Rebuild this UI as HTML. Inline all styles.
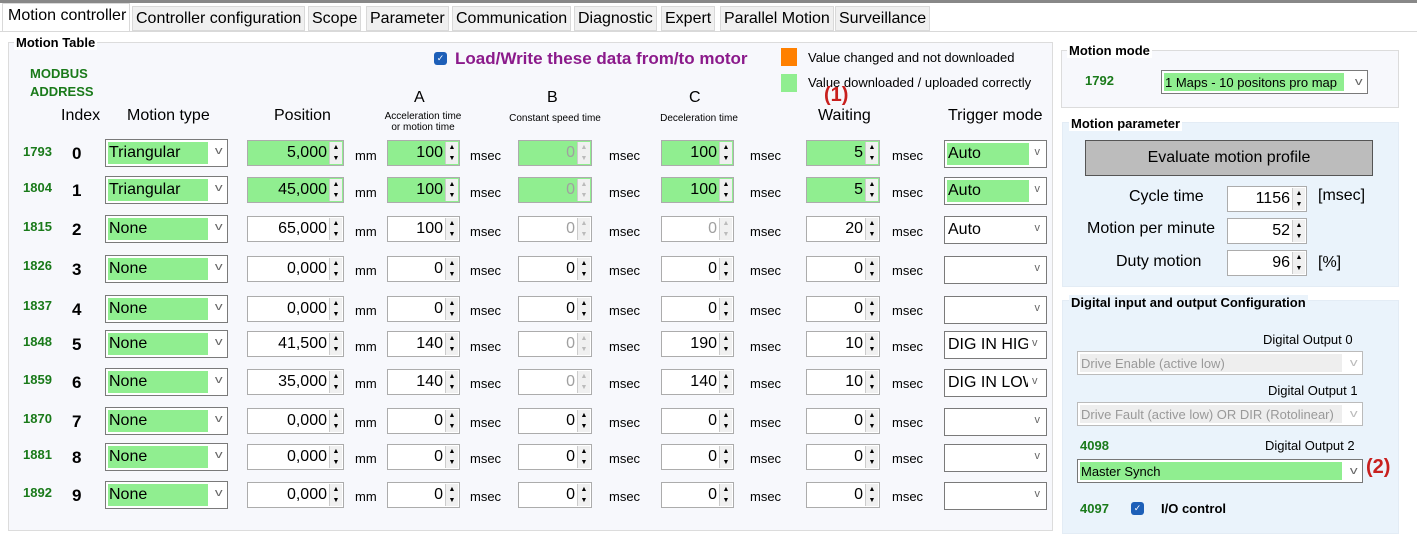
<!DOCTYPE html>
<html><head><meta charset="utf-8"><style>
*{box-sizing:border-box;margin:0;padding:0}
body{width:1417px;height:540px;background:#fff;font-family:"Liberation Sans",Arial,sans-serif;position:relative;overflow:hidden;color:#000}
.a{position:absolute;white-space:nowrap}
.tab{position:absolute;top:6px;height:25px;border:1px solid #d9d9d9;background:#f0f0f0;font-size:16px;padding:3px 3px 0;white-space:nowrap}
.grp{position:absolute;border:1px solid #dcdcdc;background:#f7f8fc}
.gt{position:absolute;font-weight:bold;font-size:13px;background:inherit;padding:0 2px;white-space:nowrap}
.mb{position:absolute;left:23px;color:#1a7a1a;font-weight:bold;font-size:13px}
.ix{position:absolute;left:72px;font-weight:bold;font-size:17px}
.cb{position:absolute;left:105px;width:123px;height:28px;border:1px solid #7a7a7a;background:#fff}
.cb .f,.tr .f{white-space:nowrap;overflow:hidden}
.cb .f{position:absolute;left:2px;top:2px;width:100px;bottom:2px;background:#90ee90;font-size:16px;padding:2px 0 0 1px}
.cb .v,.dd .v{position:absolute;right:6px;top:5px;font-size:11px;color:#666;transform:scaleX(1.4)}
.in{position:absolute;height:26px;border:1px solid #acacac;background:#fff;font-size:16px;text-align:right;padding:3px 16px 0 0}
.in.g{background:#90ee90}
.in.d{color:#a0a0a0}
.in .s{position:absolute;right:1px;top:1px;width:13px;bottom:1px;background:#f0f0f0;border-left:1px solid #ccc;font-size:7px;line-height:11px;text-align:center;color:#000;padding:0}
.in.d .s{color:#bbb}
.u{position:absolute;font-size:13px}
.tr{position:absolute;left:944px;width:103px;height:28px;border:1px solid #7a7a7a;background:#fff;overflow:hidden}
.tr .f{position:absolute;left:2px;top:2px;width:82px;bottom:2px;font-size:16px;padding:2px 0 0 1px}
.hd{position:absolute;font-size:16px}
.sm{position:absolute;font-size:10px;text-align:center}
.dd{position:absolute;left:1077px;width:286px;height:24px;border:1px solid #bbb;background:#fff}
.dd > div{white-space:nowrap;overflow:hidden}
</style></head><body>
<div class="a" style="left:0;top:0;width:1417px;height:3px;background:#888"></div>
<div class="tab" style="left:2px;top:3px;height:29px;background:#fff;border-bottom:none;padding-left:5px">Motion controller</div>
<div class="tab" style="left:132px">Controller configuration</div>
<div class="tab" style="left:308px">Scope</div>
<div class="tab" style="left:366px">Parameter</div>
<div class="tab" style="left:452px">Communication</div>
<div class="tab" style="left:574px">Diagnostic</div>
<div class="tab" style="left:661px">Expert</div>
<div class="tab" style="left:720px">Parallel Motion</div>
<div class="tab" style="left:835px">Surveillance</div>
<div class="a" style="left:0;top:31px;width:1417px;height:1px;background:#d9d9d9"></div>

<div class="grp" style="left:8px;top:42px;width:1045px;height:489px"></div>
<div class="gt" style="left:14px;top:35px;background:#fff">Motion Table</div>
<div class="mb" style="left:30px;top:65px;line-height:18px">MODBUS<br>ADDRESS</div>
<div class="a" style="left:434px;top:52px;width:13px;height:13px;background:#1d5fb8;border-radius:3px;color:#fff;font-size:9px;text-align:center;line-height:13px">✓</div>
<div class="a" style="left:455px;top:49px;font-size:17px;font-weight:bold;color:#8b1a8b">Load/Write these data from/to motor</div>
<div class="a" style="left:781px;top:48px;width:16px;height:18px;background:#ff8000"></div>
<div class="a" style="left:781px;top:74px;width:16px;height:18px;background:#90ee90"></div>
<div class="a" style="left:808px;top:50px;font-size:13px">Value changed and not downloaded</div>
<div class="a" style="left:808px;top:75px;font-size:13px">Value downloaded / uploaded correctly</div>
<div class="a" style="left:824px;top:84px;font-size:20px;font-weight:bold;color:#c8201e">(1)</div>

<div class="hd" style="left:61px;top:107px">Index</div>
<div class="hd" style="left:127px;top:107px">Motion type</div>
<div class="hd" style="left:274px;top:107px">Position</div>
<div class="hd" style="left:414px;top:89px">A</div>
<div class="sm" style="left:377px;top:111px;width:92px">Acceleration time<br>or motion time</div>
<div class="hd" style="left:547px;top:89px">B</div>
<div class="sm" style="left:503px;top:113px;width:104px">Constant speed time</div>
<div class="hd" style="left:689px;top:89px">C</div>
<div class="sm" style="left:650px;top:113px;width:98px">Deceleration time</div>
<div class="hd" style="left:818px;top:107px">Waiting</div>
<div class="hd" style="left:948px;top:107px">Trigger mode</div>

<div class="mb" style="top:144px">1793</div><div class="ix" style="top:144px">0</div>
<div class="cb" style="top:139px"><div class="f">Triangular</div><span class="v">v</span></div>
<div class="in g" style="left:247px;top:140px;width:97px">5,000<span class="s">▲<br>▼</span></div><span class="u" style="left:355px;top:148px">mm</span>
<div class="in g" style="left:387px;top:140px;width:73px">100<span class="s">▲<br>▼</span></div><span class="u" style="left:470px;top:148px">msec</span>
<div class="in g d" style="left:518px;top:140px;width:74px">0<span class="s">▲<br>▼</span></div><span class="u" style="left:609px;top:148px">msec</span>
<div class="in g" style="left:661px;top:140px;width:73px">100<span class="s">▲<br>▼</span></div><span class="u" style="left:750px;top:148px">msec</span>
<div class="in g" style="left:806px;top:140px;width:74px">5<span class="s">▲<br>▼</span></div><span class="u" style="left:892px;top:148px">msec</span>
<div class="tr" style="top:140px"><div class="f" style="background:#90ee90">Auto</div><span style="position:absolute;right:6px;top:5px;font-size:11px;color:#666">v</span></div>

<div class="mb" style="top:180px">1804</div><div class="ix" style="top:181px">1</div>
<div class="cb" style="top:176px"><div class="f">Triangular</div><span class="v">v</span></div>
<div class="in g" style="left:247px;top:177px;width:97px">45,000<span class="s">▲<br>▼</span></div><span class="u" style="left:355px;top:185px">mm</span>
<div class="in g" style="left:387px;top:177px;width:73px">100<span class="s">▲<br>▼</span></div><span class="u" style="left:470px;top:185px">msec</span>
<div class="in g d" style="left:518px;top:177px;width:74px">0<span class="s">▲<br>▼</span></div><span class="u" style="left:609px;top:185px">msec</span>
<div class="in g" style="left:661px;top:177px;width:73px">100<span class="s">▲<br>▼</span></div><span class="u" style="left:750px;top:185px">msec</span>
<div class="in g" style="left:806px;top:177px;width:74px">5<span class="s">▲<br>▼</span></div><span class="u" style="left:892px;top:185px">msec</span>
<div class="tr" style="top:177px"><div class="f" style="background:#90ee90">Auto</div><span style="position:absolute;right:6px;top:5px;font-size:11px;color:#666">v</span></div>

<div class="mb" style="top:219px">1815</div><div class="ix" style="top:220px">2</div>
<div class="cb" style="top:215px"><div class="f">None</div><span class="v">v</span></div>
<div class="in" style="left:247px;top:216px;width:97px">65,000<span class="s">▲<br>▼</span></div><span class="u" style="left:355px;top:224px">mm</span>
<div class="in" style="left:387px;top:216px;width:73px">100<span class="s">▲<br>▼</span></div><span class="u" style="left:470px;top:224px">msec</span>
<div class="in d" style="left:518px;top:216px;width:74px">0<span class="s">▲<br>▼</span></div><span class="u" style="left:609px;top:224px">msec</span>
<div class="in d" style="left:661px;top:216px;width:73px">0<span class="s">▲<br>▼</span></div><span class="u" style="left:750px;top:224px">msec</span>
<div class="in" style="left:806px;top:216px;width:74px">20<span class="s">▲<br>▼</span></div><span class="u" style="left:892px;top:224px">msec</span>
<div class="tr" style="top:216px"><div class="f">Auto</div><span style="position:absolute;right:6px;top:5px;font-size:11px;color:#666">v</span></div>

<div class="mb" style="top:258px">1826</div><div class="ix" style="top:260px">3</div>
<div class="cb" style="top:255px"><div class="f">None</div><span class="v">v</span></div>
<div class="in" style="left:247px;top:256px;width:97px">0,000<span class="s">▲<br>▼</span></div><span class="u" style="left:355px;top:263px">mm</span>
<div class="in" style="left:387px;top:256px;width:73px">0<span class="s">▲<br>▼</span></div><span class="u" style="left:470px;top:263px">msec</span>
<div class="in" style="left:518px;top:256px;width:74px">0<span class="s">▲<br>▼</span></div><span class="u" style="left:609px;top:263px">msec</span>
<div class="in" style="left:661px;top:256px;width:73px">0<span class="s">▲<br>▼</span></div><span class="u" style="left:750px;top:263px">msec</span>
<div class="in" style="left:806px;top:256px;width:74px">0<span class="s">▲<br>▼</span></div><span class="u" style="left:892px;top:263px">msec</span>
<div class="tr" style="top:256px"><span style="position:absolute;right:6px;top:5px;font-size:11px;color:#666">v</span></div>

<div class="mb" style="top:298px">1837</div><div class="ix" style="top:300px">4</div>
<div class="cb" style="top:295px"><div class="f">None</div><span class="v">v</span></div>
<div class="in" style="left:247px;top:296px;width:97px">0,000<span class="s">▲<br>▼</span></div><span class="u" style="left:355px;top:303px">mm</span>
<div class="in" style="left:387px;top:296px;width:73px">0<span class="s">▲<br>▼</span></div><span class="u" style="left:470px;top:303px">msec</span>
<div class="in" style="left:518px;top:296px;width:74px">0<span class="s">▲<br>▼</span></div><span class="u" style="left:609px;top:303px">msec</span>
<div class="in" style="left:661px;top:296px;width:73px">0<span class="s">▲<br>▼</span></div><span class="u" style="left:750px;top:303px">msec</span>
<div class="in" style="left:806px;top:296px;width:74px">0<span class="s">▲<br>▼</span></div><span class="u" style="left:892px;top:303px">msec</span>
<div class="tr" style="top:296px"><span style="position:absolute;right:6px;top:5px;font-size:11px;color:#666">v</span></div>

<div class="mb" style="top:334px">1848</div><div class="ix" style="top:335px">5</div>
<div class="cb" style="top:330px"><div class="f">None</div><span class="v">v</span></div>
<div class="in" style="left:247px;top:331px;width:97px">41,500<span class="s">▲<br>▼</span></div><span class="u" style="left:355px;top:339px">mm</span>
<div class="in" style="left:387px;top:331px;width:73px">140<span class="s">▲<br>▼</span></div><span class="u" style="left:470px;top:339px">msec</span>
<div class="in d" style="left:518px;top:331px;width:74px">0<span class="s">▲<br>▼</span></div><span class="u" style="left:609px;top:339px">msec</span>
<div class="in" style="left:661px;top:331px;width:73px">190<span class="s">▲<br>▼</span></div><span class="u" style="left:750px;top:339px">msec</span>
<div class="in" style="left:806px;top:331px;width:74px">10<span class="s">▲<br>▼</span></div><span class="u" style="left:892px;top:339px">msec</span>
<div class="tr" style="top:331px"><div class="f" style="width:100px">DIG IN HIGH</div><span style="position:absolute;right:0;top:0;width:18px;bottom:0;background:#fff;font-size:11px;color:#666;padding:5px 0 0 4px">v</span></div>

<div class="mb" style="top:372px">1859</div><div class="ix" style="top:373px">6</div>
<div class="cb" style="top:368px"><div class="f">None</div><span class="v">v</span></div>
<div class="in" style="left:247px;top:369px;width:97px">35,000<span class="s">▲<br>▼</span></div><span class="u" style="left:355px;top:376px">mm</span>
<div class="in" style="left:387px;top:369px;width:73px">140<span class="s">▲<br>▼</span></div><span class="u" style="left:470px;top:376px">msec</span>
<div class="in d" style="left:518px;top:369px;width:74px">0<span class="s">▲<br>▼</span></div><span class="u" style="left:609px;top:376px">msec</span>
<div class="in" style="left:661px;top:369px;width:73px">140<span class="s">▲<br>▼</span></div><span class="u" style="left:750px;top:376px">msec</span>
<div class="in" style="left:806px;top:369px;width:74px">10<span class="s">▲<br>▼</span></div><span class="u" style="left:892px;top:376px">msec</span>
<div class="tr" style="top:369px"><div class="f" style="width:100px">DIG IN LOW</div><span style="position:absolute;right:0;top:0;width:18px;bottom:0;background:#fff;font-size:11px;color:#666;padding:5px 0 0 4px">v</span></div>

<div class="mb" style="top:411px">1870</div><div class="ix" style="top:412px">7</div>
<div class="cb" style="top:407px"><div class="f">None</div><span class="v">v</span></div>
<div class="in" style="left:247px;top:408px;width:97px">0,000<span class="s">▲<br>▼</span></div><span class="u" style="left:355px;top:415px">mm</span>
<div class="in" style="left:387px;top:408px;width:73px">0<span class="s">▲<br>▼</span></div><span class="u" style="left:470px;top:415px">msec</span>
<div class="in" style="left:518px;top:408px;width:74px">0<span class="s">▲<br>▼</span></div><span class="u" style="left:609px;top:415px">msec</span>
<div class="in" style="left:661px;top:408px;width:73px">0<span class="s">▲<br>▼</span></div><span class="u" style="left:750px;top:415px">msec</span>
<div class="in" style="left:806px;top:408px;width:74px">0<span class="s">▲<br>▼</span></div><span class="u" style="left:892px;top:415px">msec</span>
<div class="tr" style="top:408px"><span style="position:absolute;right:6px;top:5px;font-size:11px;color:#666">v</span></div>

<div class="mb" style="top:447px">1881</div><div class="ix" style="top:448px">8</div>
<div class="cb" style="top:443px"><div class="f">None</div><span class="v">v</span></div>
<div class="in" style="left:247px;top:444px;width:97px">0,000<span class="s">▲<br>▼</span></div><span class="u" style="left:355px;top:451px">mm</span>
<div class="in" style="left:387px;top:444px;width:73px">0<span class="s">▲<br>▼</span></div><span class="u" style="left:470px;top:451px">msec</span>
<div class="in" style="left:518px;top:444px;width:74px">0<span class="s">▲<br>▼</span></div><span class="u" style="left:609px;top:451px">msec</span>
<div class="in" style="left:661px;top:444px;width:73px">0<span class="s">▲<br>▼</span></div><span class="u" style="left:750px;top:451px">msec</span>
<div class="in" style="left:806px;top:444px;width:74px">0<span class="s">▲<br>▼</span></div><span class="u" style="left:892px;top:451px">msec</span>
<div class="tr" style="top:444px"><span style="position:absolute;right:6px;top:5px;font-size:11px;color:#666">v</span></div>

<div class="mb" style="top:485px">1892</div><div class="ix" style="top:486px">9</div>
<div class="cb" style="top:481px"><div class="f">None</div><span class="v">v</span></div>
<div class="in" style="left:247px;top:482px;width:97px">0,000<span class="s">▲<br>▼</span></div><span class="u" style="left:355px;top:489px">mm</span>
<div class="in" style="left:387px;top:482px;width:73px">0<span class="s">▲<br>▼</span></div><span class="u" style="left:470px;top:489px">msec</span>
<div class="in" style="left:518px;top:482px;width:74px">0<span class="s">▲<br>▼</span></div><span class="u" style="left:609px;top:489px">msec</span>
<div class="in" style="left:661px;top:482px;width:73px">0<span class="s">▲<br>▼</span></div><span class="u" style="left:750px;top:489px">msec</span>
<div class="in" style="left:806px;top:482px;width:74px">0<span class="s">▲<br>▼</span></div><span class="u" style="left:892px;top:489px">msec</span>
<div class="tr" style="top:482px"><span style="position:absolute;right:6px;top:5px;font-size:11px;color:#666">v</span></div>

<div class="grp" style="left:1061px;top:50px;width:338px;height:58px;background:#f7f8fc"></div>
<div class="gt" style="left:1067px;top:43px;background:#fff">Motion mode</div>
<div class="mb" style="left:1085px;top:73px">1792</div>
<div class="dd" style="left:1161px;top:70px;width:207px;height:24px;border-color:#7a7a7a"><div style="position:absolute;left:2px;top:2px;width:180px;bottom:2px;background:#90ee90;font-size:13px;padding:2px 0 0 1px">1 Maps - 10 positons pro map</div><span class="v">v</span></div>

<div class="grp" style="left:1062px;top:122px;width:337px;height:165px;background:#eaf3fb;border-color:#e3ecf5"></div>
<div class="gt" style="left:1069px;top:116px;background:#fff">Motion parameter</div>
<div class="a" style="left:1085px;top:140px;width:288px;height:36px;background:#bcbcbc;border:1px solid #555;font-size:16px;text-align:center;line-height:34px">Evaluate motion profile</div>
<div class="a" style="left:1129px;top:188px;font-size:16px">Cycle time</div>
<div class="a" style="left:1087px;top:220px;font-size:16px">Motion per minute</div>
<div class="a" style="left:1116px;top:253px;font-size:16px">Duty motion</div>
<div class="in" style="left:1227px;top:186px;width:80px">1156<span class="s">▲<br>▼</span></div>
<div class="in" style="left:1227px;top:218px;width:80px">52<span class="s">▲<br>▼</span></div>
<div class="in" style="left:1227px;top:250px;width:80px">96<span class="s">▲<br>▼</span></div>
<div class="a" style="left:1318px;top:187px;font-size:16px">[msec]</div>
<div class="a" style="left:1318px;top:254px;font-size:16px">[%]</div>

<div class="grp" style="left:1062px;top:300px;width:337px;height:234px;background:#eaf3fb;border-color:#e3ecf5"></div>
<div class="gt" style="left:1069px;top:295px;background:#eaf3fb">Digital input and output Configuration</div>
<div class="a" style="left:1263px;top:332px;font-size:13px">Digital Output 0</div>
<div class="dd" style="left:1077px;top:351px;color:#999"><div style="position:absolute;left:2px;top:2px;width:262px;bottom:2px;background:#eee;font-size:13px;padding:2px 0 0 1px">Drive Enable (active low)</div><span class="v" style="color:#bbb">v</span></div>
<div class="a" style="left:1268px;top:383px;font-size:13px">Digital Output 1</div>
<div class="dd" style="left:1077px;top:402px;color:#999"><div style="position:absolute;left:2px;top:2px;width:262px;bottom:2px;background:#eee;font-size:13px;padding:2px 0 0 1px">Drive Fault (active low) OR DIR (Rotolinear)</div><span class="v" style="color:#bbb">v</span></div>
<div class="mb" style="left:1080px;top:438px">4098</div>
<div class="a" style="left:1265px;top:438px;font-size:13px">Digital Output 2</div>
<div class="dd" style="left:1077px;top:459px;height:24px;border-color:#777"><div style="position:absolute;left:2px;top:2px;width:262px;bottom:2px;background:#90ee90;font-size:13px;padding:2px 0 0 1px">Master Synch</div><span class="v">v</span></div>
<div class="a" style="left:1366px;top:456px;font-size:20px;font-weight:bold;color:#c8201e">(2)</div>
<div class="mb" style="left:1080px;top:501px">4097</div>
<div class="a" style="left:1131px;top:502px;width:13px;height:13px;background:#1d5fb8;border-radius:3px;color:#fff;font-size:9px;text-align:center;line-height:13px">✓</div>
<div class="a" style="left:1161px;top:501px;font-size:13px;font-weight:bold">I/O control</div>
</body></html>
